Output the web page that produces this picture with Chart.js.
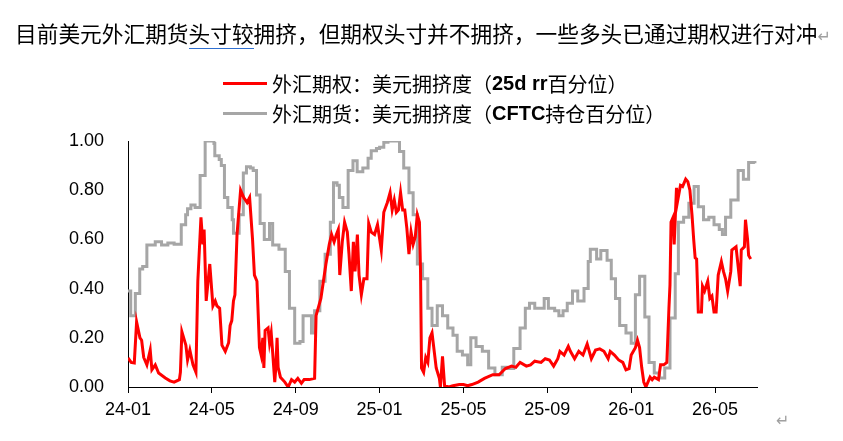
<!DOCTYPE html>
<html>
<head>
<meta charset="utf-8">
<script src="https://cdn.jsdelivr.net/npm/chart.js@4.4.0/dist/chart.umd.min.js"></script>
<style>
  body { margin: 0; background: #fff; }
  #wrap { position: relative; width: 843px; height: 441px; overflow: hidden; }
  #title {
    position: absolute; left: 15px; top: 21px; white-space: nowrap;
    font: 21.7px/24px "Noto Sans CJK SC", sans-serif; color: #000;
  }
  #title .ul { border-bottom: 1.5px solid #2f6fd0; }
  .mark { color: #a0a0a0; font: 16px "DejaVu Sans", sans-serif; }
  #legend { position: absolute; left: 223px; top: 68px; }
  #legend .row { display: flex; align-items: center; height: 30px; white-space: nowrap;
    font: 20px "Liberation Sans", "Noto Sans CJK SC", sans-serif; color: #000; }
  #legend .sw { width: 44px; height: 3px; margin-right: 5px; }
  #endmark { position: absolute; left: 776px; top: 411px; }
  canvas { position: absolute; left: 0; top: 0; }
</style>
</head>
<body>
<div id="wrap">
  <canvas id="fxChart" width="843" height="441"></canvas>
  <div id="title">目前美元外汇期货<span class="ul">头寸较</span>拥挤，但期权头寸并不拥挤，一些多头已通过期权进行对冲<span class="mark">↵</span></div>
  <div id="legend"></div>
  <div id="endmark" class="mark">↵</div>
</div>
<script>
// months counted from 2024-01
const tickMonths = [0, 4, 8, 12, 16, 20, 24, 28];
const tickLabels = ["24-01", "24-05", "24-09", "25-01", "25-05", "25-09", "26-01", "26-05"];

const seriesNames = ["外汇期权：美元拥挤度（25d rr百分位）", "外汇期货：美元拥挤度（CFTC持仓百分位）"];

// 外汇期权 25d rr 百分位
const optMonths = [0, 0.15, 0.3, 0.41, 0.57, 0.65, 0.75, 0.9, 1.06, 1.14, 1.3, 1.46, 1.78, 2.0, 2.2, 2.45, 2.5, 2.57, 2.76, 2.84,
  2.95, 3.1, 3.24, 3.33, 3.48, 3.57, 3.63, 3.73, 3.9, 4.05, 4.16, 4.24, 4.37, 4.48, 4.64, 4.8, 4.87, 4.95, 5.03, 5.1,
  5.2, 5.37, 5.52, 5.68, 5.8, 5.94, 6.03, 6.15, 6.27, 6.35, 6.43, 6.48, 6.54, 6.68, 6.75, 6.83, 6.9, 7.0, 7.05, 7.11,
  7.16, 7.27, 7.48, 7.64, 7.8, 7.95, 8.1, 8.27, 8.4, 8.65, 8.9, 8.97, 9.2, 9.44, 9.6, 9.71, 9.83, 9.94, 10.03, 10.1,
  10.22, 10.33, 10.46, 10.54, 10.65, 10.75, 10.83, 10.94, 11.02, 11.13, 11.25, 11.4, 11.48, 11.6, 11.76, 11.9, 12.08, 12.2, 12.37, 12.5,
  12.6, 12.7, 12.8, 12.9, 13.0, 13.1, 13.2, 13.3, 13.4, 13.5, 13.6, 13.7, 13.8, 13.9, 13.95, 14.0, 14.1, 14.2, 14.3, 14.4,
  14.5, 14.7, 14.85, 14.9, 15.0, 15.1, 15.3, 15.5, 15.8, 16.0, 16.2, 16.4, 16.7, 17.0, 17.4, 17.7, 18.0, 18.3, 18.5, 18.7,
  19.0, 19.2, 19.4, 19.7, 19.9, 20.1, 20.3, 20.5, 20.6, 20.8, 21.0, 21.1, 21.3, 21.5, 21.7, 21.9, 22.1, 22.3, 22.5, 22.7,
  22.9, 23.0, 23.2, 23.4, 23.6, 23.75, 23.9, 24.0, 24.2, 24.3, 24.4, 24.5, 24.6, 24.7, 24.9, 25.0, 25.1, 25.3, 25.4, 25.55,
  25.7, 25.8, 25.85, 25.9, 26.0, 26.05, 26.16, 26.2, 26.35, 26.45, 26.6, 26.7, 26.8, 26.9, 26.98, 27.05, 27.12, 27.2, 27.35, 27.4,
  27.5, 27.65, 27.75, 27.85, 27.95, 28.05, 28.15, 28.3, 28.4, 28.5, 28.6, 28.75, 28.8, 29.0, 29.1, 29.2, 29.25, 29.4, 29.45, 29.55,
  29.6, 29.7];
const optValues = [0.118, 0.10, 0.098, 0.265, 0.20, 0.19, 0.12, 0.09, 0.15, 0.07, 0.09, 0.057, 0.037, 0.025, 0.02, 0.03, 0.06, 0.225, 0.17, 0.11,
  0.15, 0.09, 0.06, 0.43, 0.69, 0.58, 0.64, 0.35, 0.50, 0.33, 0.35, 0.33, 0.32, 0.17, 0.145, 0.18, 0.25, 0.27, 0.35, 0.375,
  0.62, 0.80, 0.77, 0.75, 0.77, 0.60, 0.455, 0.43, 0.16, 0.13, 0.20, 0.077, 0.23, 0.24, 0.18, 0.22, 0.14, 0.02, 0.08, 0.20,
  0.08, 0.04, 0.02, 0.0, 0.03, 0.02, 0.035, 0.015, 0.03, 0.03, 0.035, 0.29, 0.36, 0.50, 0.58, 0.62, 0.59, 0.62, 0.64, 0.455,
  0.59, 0.67, 0.63, 0.54, 0.39, 0.59, 0.47, 0.62, 0.455, 0.375, 0.44, 0.44, 0.665, 0.63, 0.62, 0.66, 0.557, 0.71, 0.75, 0.79,
  0.72, 0.76, 0.71, 0.72, 0.79, 0.72, 0.72, 0.645, 0.54, 0.63, 0.58, 0.61, 0.70, 0.67, 0.48, 0.077, 0.06, 0.12, 0.10, 0.20,
  0.22, 0.077, 0.035, 0.0, 0.125, 0.005, 0.0, 0.005, 0.01, 0.01, 0.005, 0.01, 0.02, 0.035, 0.05, 0.05, 0.075, 0.085, 0.08, 0.10,
  0.085, 0.09, 0.105, 0.10, 0.115, 0.11, 0.085, 0.115, 0.145, 0.13, 0.165, 0.145, 0.115, 0.145, 0.13, 0.175, 0.115, 0.15, 0.155, 0.145,
  0.115, 0.145, 0.13, 0.11, 0.10, 0.07, 0.075, 0.13, 0.16, 0.19, 0.16, 0.08, 0.02, 0.0, 0.04, 0.03, 0.04, 0.03, 0.09, 0.09,
  0.10, 0.32, 0.415, 0.67, 0.69, 0.58, 0.81, 0.75, 0.82, 0.815, 0.845, 0.835, 0.80, 0.70, 0.60, 0.525, 0.52, 0.305, 0.305, 0.41,
  0.39, 0.43, 0.36, 0.37, 0.305, 0.305, 0.455, 0.51, 0.47, 0.44, 0.39, 0.47, 0.557, 0.57, 0.49, 0.41, 0.557, 0.57, 0.68, 0.60,
  0.535, 0.52];

// 外汇期货 CFTC 持仓百分位 (weekly, stepped)
const futMonths = [0, 0.13, 0.35, 0.56, 0.7, 0.9, 1.3, 1.6, 1.9, 2.2, 2.54, 2.75, 2.84, 3.0, 3.2, 3.44, 3.68, 4.1, 4.14, 4.35,
  4.45, 4.6, 4.76, 4.97, 5.03, 5.3, 5.5, 5.65, 5.84, 5.97, 6.13, 6.3, 6.5, 6.75, 6.9, 7.2, 7.5, 7.7, 7.95, 8.2,
  8.35, 8.75, 8.9, 9.15, 9.4, 9.65, 9.8, 9.97, 10.08, 10.25, 10.5, 10.73, 10.93, 11.2, 11.45, 11.6, 11.85, 12.0, 12.2, 12.4,
  12.95, 13.15, 13.4, 13.6, 13.8, 14.05, 14.3, 14.5, 14.75, 15.0, 15.25, 15.5, 15.7, 15.95, 16.2, 16.35, 16.6, 16.9, 17.2, 17.5,
  17.85, 18.05, 18.4, 18.7, 18.95, 19.15, 19.4, 19.85, 20.05, 20.35, 20.55, 20.75, 20.95, 21.2, 21.45, 21.75, 21.95, 22.05, 22.35, 22.55,
  22.85, 23.05, 23.25, 23.45, 23.75, 24.0, 24.2, 24.4, 24.65, 24.85, 25.1, 25.35, 25.6, 25.85, 26.1, 26.25, 26.5, 26.75, 27.0, 27.2,
  27.45, 27.7, 27.95, 28.2, 28.35, 28.5, 28.75, 29.1, 29.35, 29.6, 29.9];
const futValues = [0.39, 0.29, 0.38, 0.48, 0.49, 0.577, 0.59, 0.577, 0.585, 0.58, 0.66, 0.70, 0.725, 0.74, 0.73, 0.86, 1.0, 0.99, 0.94, 0.925,
  0.90, 0.77, 0.73, 0.68, 0.625, 0.70, 0.87, 0.895, 0.89, 0.88, 0.78, 0.665, 0.60, 0.665, 0.577, 0.56, 0.47, 0.32, 0.178, 0.185,
  0.29, 0.22, 0.31, 0.43, 0.54, 0.67, 0.83, 0.82, 0.77, 0.73, 0.88, 0.92, 0.875, 0.89, 0.93, 0.96, 0.97, 0.975, 0.995, 1.0,
  0.957, 0.89, 0.79, 0.70, 0.50, 0.44, 0.32, 0.25, 0.33, 0.29, 0.24, 0.21, 0.145, 0.13, 0.09, 0.20, 0.165, 0.145, 0.077, 0.05,
  0.08, 0.075, 0.157, 0.24, 0.32, 0.34, 0.32, 0.36, 0.32, 0.31, 0.29, 0.31, 0.34, 0.39, 0.35, 0.40, 0.51, 0.56, 0.52, 0.555,
  0.515, 0.44, 0.36, 0.25, 0.22, 0.178, 0.375, 0.45, 0.285, 0.10, 0.057, 0.037, 0.077, 0.28, 0.46, 0.67, 0.69, 0.747, 0.815, 0.733,
  0.68, 0.69, 0.66, 0.64, 0.62, 0.69, 0.76, 0.88, 0.845, 0.913, 0.91];

const toPoints = (xs, ys) => xs.map((x, i) => ({ x: x, y: ys[i] }));

const chart = new Chart(document.getElementById("fxChart"), {
  type: "line",
  data: {
    datasets: [
      {
        label: seriesNames[0],
        data: toPoints(optMonths, optValues),
        borderColor: "#ff0000",
        borderWidth: 3,
        pointRadius: 0,
        tension: 0
      },
      {
        label: seriesNames[1],
        data: toPoints(futMonths, futValues),
        borderColor: "#a6a6a6",
        borderWidth: 3,
        pointRadius: 0,
        stepped: true
      }
    ]
  },
  options: {
    responsive: false,
    animation: false,
    layout: { padding: { left: 0, top: 141, right: 86, bottom: 0 } },
    plugins: { legend: { display: false }, tooltip: { enabled: false } },
    scales: {
      x: {
        type: "linear",
        min: 0,
        max: 30,
        afterBuildTicks: scale => { scale.ticks = tickMonths.map(v => ({ value: v })); },
        afterFit: scale => { scale.height = 54; },
        grid: { drawOnChartArea: false, drawTicks: true, tickLength: 6, color: "#000" },
        border: { display: true, color: "#000", width: 1 },
        ticks: {
          autoSkip: false,
          maxRotation: 0,
          padding: 6,
          color: "#000",
          font: { family: "Liberation Sans, Arial", size: 18 },
          callback: v => tickLabels[tickMonths.indexOf(v)]
        }
      },
      y: {
        min: 0,
        max: 1,
        afterFit: scale => { scale.width = 128; },
        grid: { display: false, drawTicks: false },
        border: { display: true, color: "#000", width: 1 },
        ticks: {
          stepSize: 0.2,
          padding: 24,
          color: "#000",
          font: { family: "Liberation Sans, Arial", size: 18 },
          callback: v => v.toFixed(2)
        }
      }
    }
  }
});

// legend rows
const legend = document.getElementById("legend");
chart.data.datasets.forEach(ds => {
  const row = document.createElement("div");
  row.className = "row";
  row.innerHTML = `<span class="sw" style="background:${ds.borderColor}"></span>` +
    ds.label.replace(/([A-Za-z0-9 ]+)/g, "<b>$1</b>");
  legend.appendChild(row);
});
</script>
</body>
</html>
